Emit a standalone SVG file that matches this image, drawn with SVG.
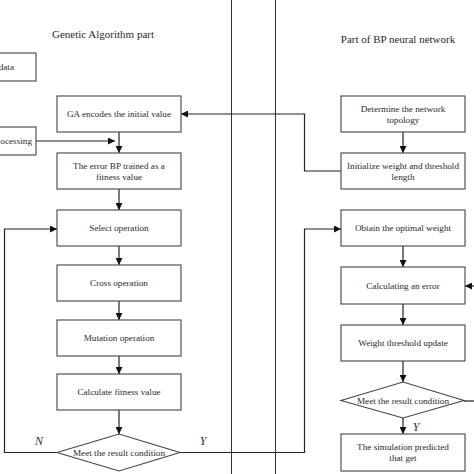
<svg xmlns="http://www.w3.org/2000/svg" width="474" height="474" viewBox="0 0 474 474">
<defs>
<style>
.box{fill:#fff;stroke:#444;stroke-width:1.1}
.t{font-family:"Liberation Serif","Times New Roman",serif;font-size:9.2px;fill:#2a2a2a;text-anchor:middle;dominant-baseline:central}
.h{font-family:"Liberation Serif","Times New Roman",serif;font-size:11px;fill:#2a2a2a;text-anchor:middle;dominant-baseline:central}
.yn{font-family:"Liberation Serif","Times New Roman",serif;font-size:12px;font-style:italic;fill:#333;text-anchor:middle;dominant-baseline:central}
.ln{fill:none;stroke:#222;stroke-width:1.2}
.div{fill:none;stroke:#333;stroke-width:1}
</style>
<marker id="ah" viewBox="0 0 10 10" refX="10" refY="5" markerWidth="7" markerHeight="7" markerUnits="userSpaceOnUse" orient="auto">
<path d="M0,0 L10,5 L0,10 z" fill="#111"/>
</marker>
</defs>
<rect width="474" height="474" fill="#fff"/>
<g id="dividers">
<line class="div" x1="231.5" y1="0" x2="231.5" y2="474"/>
<line class="div" x1="275.5" y1="0" x2="275.5" y2="474"/>
</g>
<text class="h" x="103" y="34">Genetic Algorithm part</text>
<text class="h" x="398" y="39">Part of BP neural network</text>
<g id="connectors">
<path class="ln" d="M119,132 V153" marker-end="url(#ah)"/>
<path class="ln" d="M36,141 H115" marker-end="url(#ah)"/>
<path class="ln" d="M119,189 V210" marker-end="url(#ah)"/>
<path class="ln" d="M119,246 V265" marker-end="url(#ah)"/>
<path class="ln" d="M119,301 V320" marker-end="url(#ah)"/>
<path class="ln" d="M119,356 V374" marker-end="url(#ah)"/>
<path class="ln" d="M119,410 V434" marker-end="url(#ah)"/>
<path class="ln" d="M57,452.5 H4.5 V229 H57" marker-end="url(#ah)"/>
<path class="ln" d="M180,452.5 H304.5 V229 H341" marker-end="url(#ah)"/>
<path class="ln" d="M341,171 H304.5 V114 H181" marker-end="url(#ah)"/>
<path class="ln" d="M403,132 V153" marker-end="url(#ah)"/>
<path class="ln" d="M403,246 V267" marker-end="url(#ah)"/>
<path class="ln" d="M403,304 V325" marker-end="url(#ah)"/>
<path class="ln" d="M403,361 V382" marker-end="url(#ah)"/>
<path class="ln" d="M403,418 V434" marker-end="url(#ah)"/>
<path class="ln" d="M474,286 H465" marker-end="url(#ah)"/>
<path class="ln" d="M464,401 H474"/>
<text class="yn" x="39" y="441">N</text>
<text class="yn" x="203" y="441">Y</text>
<text class="yn" x="416" y="427">Y</text>
</g>
<g id="n-data"><rect class="box" x="-80" y="53" width="116" height="28"/><text class="t" x="14" y="67" style="text-anchor:end">data</text></g>
<g id="n-proc"><rect class="box" x="-80" y="127" width="116" height="28"/><text class="t" x="32" y="141" style="text-anchor:end">ocessing</text></g>
<g id="n-ga"><rect class="box" x="57" y="96" width="124" height="36"/><text class="t" x="119" y="114">GA encodes the initial value</text></g>
<g id="n-err"><rect class="box" x="57" y="153" width="124" height="36"/><text class="t" x="119" y="166">The error BP trained as a</text><text class="t" x="119" y="177">fitness value</text></g>
<g id="n-sel"><rect class="box" x="57" y="210" width="124" height="36"/><text class="t" x="119" y="228">Select operation</text></g>
<g id="n-cross"><rect class="box" x="57" y="265" width="124" height="36"/><text class="t" x="119" y="283">Cross operation</text></g>
<g id="n-mut"><rect class="box" x="57" y="320" width="124" height="36"/><text class="t" x="119" y="338">Mutation operation</text></g>
<g id="n-fit"><rect class="box" x="57" y="374" width="124" height="36"/><text class="t" x="119" y="392">Calculate fitness value</text></g>
<g id="n-cond1"><polygon class="box" points="57,452.5 119,434 180,452.5 119,471"/><text class="t" x="119" y="453">Meet the result condition</text></g>
<g id="n-topo"><rect class="box" x="341" y="96" width="124" height="36"/><text class="t" x="403" y="109">Determine the network</text><text class="t" x="403" y="120">topology</text></g>
<g id="n-init"><rect class="box" x="341" y="153" width="124" height="36"/><text class="t" x="403" y="166">Initialize weight and threshold</text><text class="t" x="403" y="177">length</text></g>
<g id="n-opt"><rect class="box" x="341" y="210" width="124" height="36"/><text class="t" x="403" y="228">Obtain the optimal weight</text></g>
<g id="n-calc"><rect class="box" x="341" y="267" width="124" height="37"/><text class="t" x="403" y="286">Calculating an error</text></g>
<g id="n-upd"><rect class="box" x="341" y="325" width="124" height="36"/><text class="t" x="403" y="343">Weight threshold update</text></g>
<g id="n-cond2"><polygon class="box" points="341,400.5 403,382 464,400.5 403,418"/><text class="t" x="403" y="401">Meet the result condition</text></g>
<g id="n-sim"><rect class="box" x="341" y="434" width="124" height="37"/><text class="t" x="403" y="447">The simulation predicted</text><text class="t" x="403" y="458">that get</text></g>
</svg>
